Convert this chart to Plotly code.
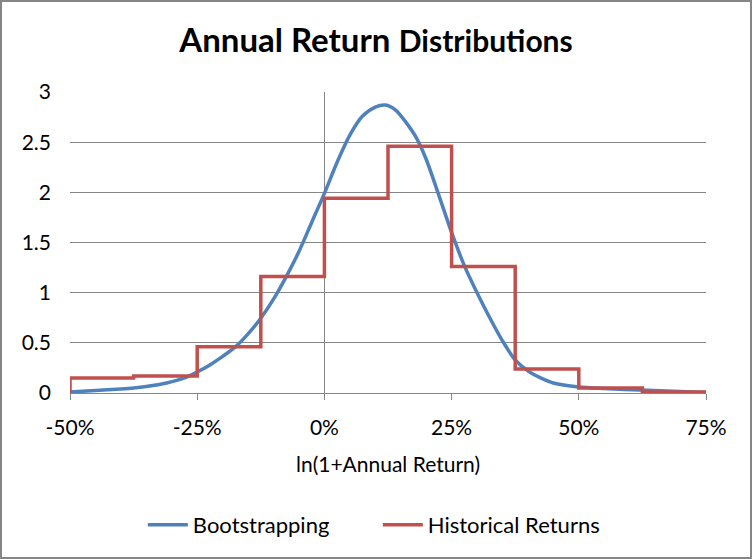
import plotly.graph_objects as go

# Bootstrapped density (x in % of ln(1+return))
boot_x = [-50, -45, -40, -37.5, -35, -31, -27.5, -25, -22.5, -20, -17.5, -15, -12.5, -10,
          -7.5, -5, -2.5, 0, 2.5, 5, 7.5, 10, 12, 14, 16, 18, 20, 22.5, 25, 27.5,
          30, 32.5, 35, 37.5, 40, 42.5, 45, 50, 55, 62, 75]
boot_y = [0.01, 0.025, 0.04, 0.05, 0.065, 0.10, 0.15, 0.21, 0.28, 0.365, 0.46, 0.59, 0.745, 0.935,
          1.16, 1.41, 1.70, 1.99, 2.30, 2.57, 2.76, 2.85, 2.87, 2.82, 2.70, 2.55, 2.33, 1.97, 1.60, 1.27,
          1.0, 0.75, 0.52, 0.33, 0.22, 0.15, 0.10, 0.06, 0.045, 0.03, 0.005]

# Historical returns histogram (bin edges and heights)
bin_edges = [-50, -37.5, -25, -12.5, 0, 12.5, 25, 37.5, 50, 62.5, 75]
bin_heights = [0.15, 0.17, 0.46, 1.16, 1.94, 2.46, 1.26, 0.24, 0.05, 0.01]

x_ticks = [-50, -25, 0, 25, 50, 75]
x_tick_labels = ["-50%", "-25%", "0%", "25%", "50%", "75%"]
y_ticks = [0, 0.5, 1, 1.5, 2, 2.5, 3]
y_tick_labels = ["0", "0.5", "1", "1.5", "2", "2.5", "3"]

step_x = [bin_edges[0]] + bin_edges
step_y = [0] + bin_heights + [bin_heights[-1]]

FONT = "Lato"
GRID = "#868686"

fig = go.Figure()
fig.add_trace(go.Scatter(
    x=boot_x, y=boot_y, mode="lines", name="Bootstrapping",
    line=dict(color="#4F81BD", width=3.5, shape="spline", smoothing=0.8),
))
fig.add_trace(go.Scatter(
    x=step_x, y=step_y, mode="lines", name="Historical Returns",
    line=dict(color="#C0504D", width=3.5, shape="hv"),
))

fig.update_xaxes(
    range=[-50, 75],
    tickmode="array", tickvals=x_ticks, ticktext=x_tick_labels,
    showgrid=False,
    zeroline=True, zerolinecolor=GRID, zerolinewidth=1,
    showline=True, linecolor=GRID, linewidth=1,
    ticks="outside", ticklen=6, tickcolor=GRID,
    ticklabelstandoff=10,
    tickfont=dict(family=FONT, size=21, color="black"),
    title=dict(text="ln(1+Annual Return)", font=dict(family=FONT, size=21, color="black"), standoff=19),
)
fig.update_yaxes(
    range=[0, 3],
    tickmode="array", tickvals=y_ticks, ticktext=y_tick_labels,
    showgrid=True, gridcolor=GRID, gridwidth=1,
    zeroline=False, showline=False,
    ticks="", ticklabelstandoff=18,
    tickfont=dict(family=FONT, size=21, color="black"),
)

fig.update_layout(
    width=752, height=559,
    margin=dict(l=70, r=46, t=92, b=166),
    paper_bgcolor="white", plot_bgcolor="white",
    title=dict(
        text="<b>Annual Return</b> <b><span style='font-size:30px'>Distributions</span></b>",
        font=dict(family=FONT, size=33, color="black"),
        x=0.5, xanchor="center", xref="container",
        y=1 - 40 / 559, yanchor="middle", yref="container",
    ),
    legend=dict(
        orientation="h", x=0.484, xanchor="center", y=-0.4385, yanchor="middle",
        font=dict(family=FONT, size=22, color="black"),
        itemwidth=40, entrywidth=180, entrywidthmode="pixels",
    ),
    showlegend=True,
    shapes=[dict(
        type="rect", xref="paper", yref="paper",
        x0=-69 / 636, x1=1 + 45 / 636, y0=-165 / 301, y1=1 + 91 / 301,
        line=dict(color=GRID, width=2), layer="above",
    )],
)

fig.write_html("out.html", config={"displayModeBar": False},
               post_script="document.body.style.margin = '0px';")
